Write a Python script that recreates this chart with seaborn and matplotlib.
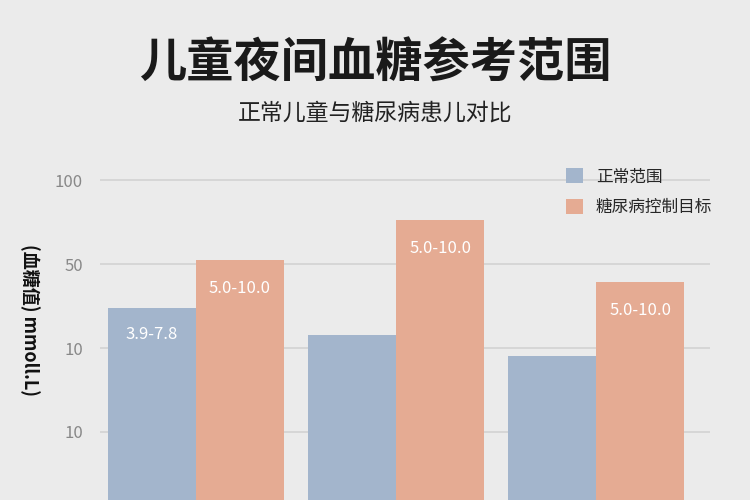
import matplotlib
matplotlib.use("Agg")
import matplotlib.pyplot as plt
import seaborn as sns
import pandas as pd

categories = ["低龄儿童", "学龄儿童", "青少年"]
series = ["正常范围", "糖尿病控制目标"]
normal_vals = [2.476, 2.154, 1.904]
diabetes_vals = [3.047, 3.523, 2.785]
bar_labels_normal = ["3.9-7.8", "", ""]
bar_labels_diab = ["5.0-10.0", "5.0-10.0", "5.0-10.0"]
tick_vals = [1, 2, 3, 4]
tick_labels = ["10", "10", "50", "100"]

sns.set_theme(style="white")
plt.rcParams['font.family'] = ['Noto Sans CJK SC', 'DejaVu Sans']

df = pd.DataFrame({
    "cat": categories * 2,
    "series": [series[0]] * 3 + [series[1]] * 3,
    "val": normal_vals + diabetes_vals,
})

fig = plt.figure(figsize=(7.5, 5), dpi=100, facecolor="#ebebeb")
ax = fig.add_axes([0.133, 0.0, 0.813, 0.66], facecolor="#ebebeb")
pal = {series[0]: "#a3b5cc", series[1]: "#e5ab93"}
sns.barplot(data=df, x="cat", y="val", hue="series", palette=pal, width=0.88,
            saturation=1, ax=ax, zorder=2, linewidth=0)
ax.set_ylim(0.19, 4.12)
ax.set_xlim(-0.48, 2.565)
ax.set_yticks(tick_vals)
ax.set_yticklabels(tick_labels, fontsize=12, color="#888888")
ax.tick_params(axis="y", length=0, pad=12)
ax.set_xticks([])
ax.set_xlabel("")
ax.set_ylabel("")
for s in ax.spines.values():
    s.set_visible(False)
for v in tick_vals:
    ax.axhline(v, color="#d2d2d2", lw=1.2, zorder=1)

for i, (ln, ld) in enumerate(zip(bar_labels_normal, bar_labels_diab)):
    if ln:
        ax.text(i - 0.22, normal_vals[i] - 0.32, ln, ha="center", va="center",
                color="white", fontsize=12)
    ax.text(i + 0.22, diabetes_vals[i] - 0.34, ld, ha="center", va="center",
            color="white", fontsize=12)

leg = ax.legend(loc="upper left", bbox_to_anchor=(0.74, 1.05), frameon=False,
                fontsize=12, handlelength=1.0, handleheight=1.0, labelspacing=0.8)

fig.text(0.5, 0.873, "儿童夜间血糖参考范围", ha="center", va="center",
         fontsize=34, fontweight="bold", color="#1a1a1a")
fig.text(0.5, 0.773, "正常儿童与糖尿病患儿对比", ha="center", va="center",
         fontsize=16.5, color="#222222")
fig.text(0.04, 0.36, "(血糖值) mmoll.L)", rotation=-90, ha="center", va="center",
         fontsize=13, fontweight="bold", color="#111111")

fig.savefig("out.png", dpi=100, facecolor=fig.get_facecolor())
